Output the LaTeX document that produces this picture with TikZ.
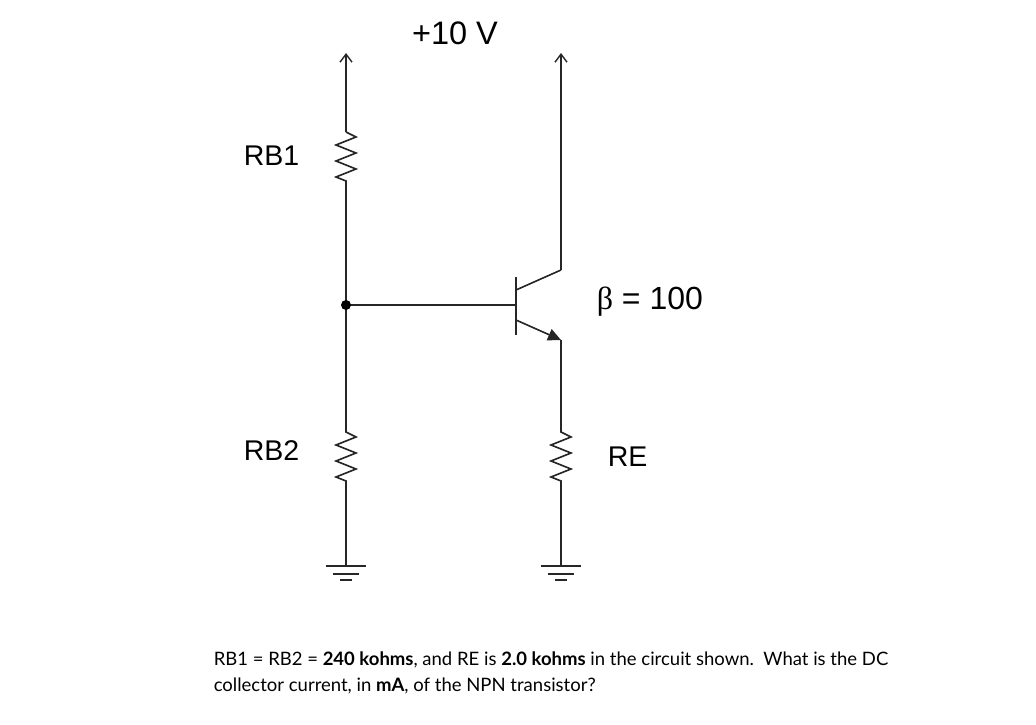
\documentclass[tikz,border=0pt]{standalone}
\usepackage{fontspec}
\setmainfont{Liberation Sans}
\newfontfamily\latofont{Lato}
\newfontfamily\serifgr{Liberation Serif}
\usetikzlibrary{arrows.meta}
\begin{document}
\begin{tikzpicture}[x=1pt,y=-1pt,line width=1.6pt,
  wire/.style={draw=black!85},
  lbl/.style={font=\fontsize{28.5}{32}\selectfont,inner sep=0pt},
  vtip/.style={-{Straight Barb[length=8pt,width=12pt,line width=1.4pt]}}]
\useasboundingbox (0,0) rectangle (1036,725);
% coordinates
\coordinate (t1) at (346,53);
\coordinate (t2) at (561,53);
\coordinate (j) at (346,305);
\coordinate (b) at (516,305);
\coordinate (cb) at (516,290);
\coordinate (c) at (561,270);
\coordinate (eb) at (516,320);
\coordinate (e) at (561,340);
\coordinate (g1) at (346,566);
\coordinate (g2) at (561,566);
% RB1
\draw[wire,vtip] (346,132) -- (t1);
\draw[wire] (346,132) -- (356,137) -- (336,145) -- (356,153) -- (336,161) -- (356,169) -- (336,177) -- (346,181) -- (j);
% RB2
\draw[wire] (j) -- (346,432) -- (356,437) -- (336,445) -- (356,453) -- (336,461) -- (356,469) -- (336,477) -- (346,481) -- (g1);
% RE
\draw[wire] (e) -- (561,432) -- (571,437) -- (551,445) -- (571,453) -- (551,461) -- (571,469) -- (551,477) -- (561,481) -- (g2);
% base
\draw[wire] (j) -- (b);
\fill (j) circle (5);
\draw[wire] (516,277) -- (516,335);
\draw[wire] (cb) -- (c);
\draw[wire,vtip] (c) -- (t2);
\draw[wire,-{Triangle[length=13pt,width=12pt]}] (eb) -- (e);
% grounds
\foreach \x in {346,561}{
  \draw[wire] (\x-20,566) -- (\x+20,566);
  \draw[wire] (\x-13,574) -- (\x+13,574);
  \draw[wire] (\x-6,580) -- (\x+6,580);
}
% labels
\node[lbl,font=\fontsize{32.5}{36}\selectfont] (vcc) at (455,33) {+10 V};
\node[lbl,anchor=west] (lrb1) at (243,156) {RB1};
\node[lbl,anchor=west] (lrb2) at (243,451) {RB2};
\node[lbl,anchor=west] (lre) at (607,457) {RE};
\node[lbl,anchor=west,font=\fontsize{32}{36}\selectfont] (lbeta) at (596,302) {{\serifgr β} = 100};
\node[anchor=north west,inner sep=0pt,align=left,font=\latofont\fontsize{18.5}{26}\selectfont] (q) at (213,651)
 {RB1 = RB2 = \textbf{240 kohms}, and RE is \textbf{2.0 kohms} in the circuit shown.~~What is the DC\\collector current, in \textbf{mA}, of the NPN transistor?};
\end{tikzpicture}
\end{document}
